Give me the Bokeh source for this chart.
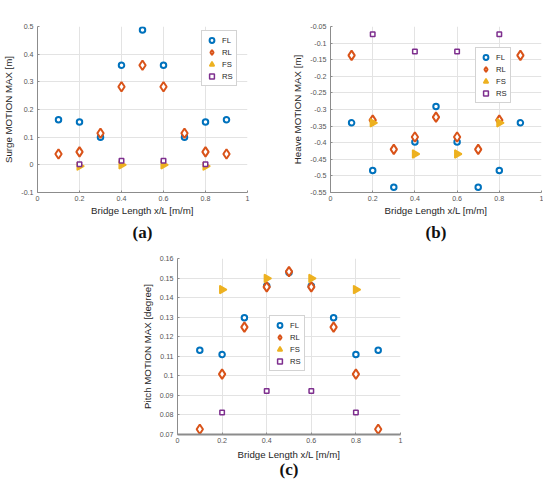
import math
from bokeh.plotting import figure
from bokeh.layouts import column, row
from bokeh.models import FixedTicker, Legend, LegendItem, Spacer, Title
from bokeh.embed import file_html
from bokeh.resources import INLINE

# ---------------- data ----------------
x_full = [0.1, 0.2, 0.3, 0.4, 0.5, 0.6, 0.7, 0.8, 0.9]
x_short = [0.2, 0.4, 0.6, 0.8]

surge_FL = [0.163, 0.155, 0.100, 0.360, 0.487, 0.360, 0.100, 0.155, 0.163]
surge_RL = [0.039, 0.047, 0.114, 0.282, 0.360, 0.282, 0.114, 0.047, 0.039]
surge_FS = [-0.005, 0.000, 0.000, -0.005]
surge_RS = [0.002, 0.015, 0.015, 0.002]

heave_FL = [-0.340, -0.484, -0.534, -0.398, -0.291, -0.398, -0.534, -0.484, -0.340]
heave_RL = [-0.137, -0.332, -0.420, -0.383, -0.323, -0.383, -0.420, -0.332, -0.137]
heave_FS = [-0.340, -0.434, -0.434, -0.340]
heave_RS = [-0.073, -0.125, -0.125, -0.073]

pitch_FL = [0.1131, 0.1109, 0.1297, 0.1460, 0.1528, 0.1460, 0.1297, 0.1109, 0.1131]
pitch_RL = [0.0727, 0.1009, 0.1249, 0.1455, 0.1533, 0.1455, 0.1249, 0.1009, 0.0727]
pitch_FS = [0.1441, 0.1498, 0.1498, 0.1441]
pitch_RS = [0.0812, 0.0922, 0.0922, 0.0812]

x_ticks = [0, 0.2, 0.4, 0.6, 0.8, 1]
x_tick_labels = ["0", "0.2", "0.4", "0.6", "0.8", "1"]
surge_ticks = [-0.1, 0, 0.1, 0.2, 0.3, 0.4, 0.5]
surge_tick_labels = ["-0.1", "0", "0.1", "0.2", "0.3", "0.4", "0.5"]
heave_ticks = [-0.55, -0.5, -0.45, -0.4, -0.35, -0.3, -0.25, -0.2, -0.15, -0.1, -0.05]
heave_tick_labels = ["-0.55", "-0.5", "-0.45", "-0.4", "-0.35", "-0.3", "-0.25",
                     "-0.2", "-0.15", "-0.1", "-0.05"]
pitch_ticks = [0.07, 0.08, 0.09, 0.1, 0.11, 0.12, 0.13, 0.14, 0.15, 0.16]
pitch_tick_labels = ["0.07", "0.08", "0.09", "0.1", "0.11", "0.12", "0.13",
                     "0.14", "0.15", "0.16"]

series_names = ["FL", "RL", "FS", "RS"]
colors = {"FL": "#0072BD", "RL": "#D95319", "FS": "#EDB120", "RS": "#7E2F8E"}

SANS = "Liberation Sans"


def make_panel(title, ylabel, yrange, yticks, ylabels, data, legend_xy,
               frame_w, frame_h, borders, title_standoff, xlabel_standoff):
    p = figure(frame_width=frame_w, frame_height=frame_h, x_range=(0, 1), y_range=yrange,
               output_backend="svg", toolbar_location=None,
               min_border_left=borders[0], min_border_right=borders[1],
               min_border_top=borders[2], min_border_bottom=borders[3])
    p.outline_line_color = None
    p.background_fill_color = "white"
    p.border_fill_color = "white"

    t = Title(text=title, align="center", text_font="Liberation Serif",
              text_font_size="17px", text_font_style="bold", text_color="#111111",
              standoff=title_standoff)
    p.add_layout(t, "below")

    p.xaxis.ticker = FixedTicker(ticks=x_ticks)
    p.xaxis.major_label_overrides = dict(zip(x_ticks, x_tick_labels))
    p.yaxis.ticker = FixedTicker(ticks=yticks)
    p.yaxis.major_label_overrides = dict(zip(yticks, ylabels))
    p.xaxis.axis_label = "Bridge Length x/L [m/m]"
    p.yaxis.axis_label = ylabel
    for ax in (p.xaxis, p.yaxis):
        ax.axis_label_text_font = SANS
        ax.axis_label_text_font_size = "9.7px"
        ax.axis_label_text_font_style = "normal"
        ax.axis_label_text_color = "#262626"
        ax.axis_label_standoff = 4
        ax.major_label_text_font = SANS
        ax.major_label_text_font_size = "7.1px"
        ax.major_label_text_color = "#555555"
        ax.major_label_standoff = 4
        ax.axis_line_color = "#8c8c8c"
        ax.major_tick_line_color = "#8c8c8c"
        ax.major_tick_in = 2
        ax.major_tick_out = 0
        ax.minor_tick_line_color = None
    p.xaxis.axis_label_standoff = xlabel_standoff
    p.xaxis.major_label_standoff = 3
    p.grid.grid_line_color = "#e3e3e3"
    p.grid.grid_line_width = 1

    xs = {"FL": x_full, "RL": x_full, "FS": x_short, "RS": x_short}
    items = []
    r = p.scatter(xs["FL"], data["FL"], marker="circle", size=5.5,
                  line_color=colors["FL"], line_width=2, fill_color="white")
    items.append(LegendItem(label="FL", renderers=[r]))
    r = p.scatter(xs["RL"], data["RL"], marker="diamond", size=9.5,
                  line_color=colors["RL"], line_width=2, fill_color="white")
    items.append(LegendItem(label="RL", renderers=[r]))
    r = p.scatter(xs["FS"], data["FS"], marker="triangle", size=8, angle=-math.pi / 2,
                  line_color=colors["FS"], line_width=1.5, fill_color=colors["FS"])
    items.append(LegendItem(label="FS", renderers=[r]))
    r = p.scatter(xs["RS"], data["RS"], marker="square", size=4.5,
                  line_color=colors["RS"], line_width=1.5, fill_color="white")
    items.append(LegendItem(label="RS", renderers=[r]))

    leg = Legend(items=items, location=legend_xy, margin=0, padding=3,
                 spacing=0, glyph_width=13, glyph_height=12, label_height=12,
                 label_width=9, label_standoff=4, label_text_font=SANS,
                 label_text_font_size="7.7px", label_text_color="#262626",
                 border_line_color="#a8a8a8", border_line_width=1,
                 background_fill_color="white", background_fill_alpha=1)
    p.add_layout(leg)
    return p


pa = make_panel("(a)", "Surge MOTION MAX [m]", (-0.1, 0.5), surge_ticks, surge_tick_labels,
                {"FL": surge_FL, "RL": surge_RL, "FS": surge_FS, "RS": surge_RS},
                (164, 106), 210, 166, (28, 30, 26, 60), 4, 1)
pb = make_panel("(b)", "Heave MOTION MAX [m]", (-0.55, -0.05), heave_ticks, heave_tick_labels,
                {"FL": heave_FL, "RL": heave_RL, "FS": heave_FS, "RS": heave_RS},
                (145, 89), 211, 166, (53, 2, 26, 60), 4, 1)
pc = make_panel("(c)", "Pitch MOTION MAX [degree]", (0.07, 0.16), pitch_ticks, pitch_tick_labels,
                {"FL": pitch_FL, "RL": pitch_RL, "FS": pitch_FS, "RS": pitch_RS},
                (92, 63), 223, 176, (40, 20, 6, 50), -10, 3)
pc.xaxis.axis_line_width = 2

layout = column(row(pa, pb), row(Spacer(width=137, height=10), pc))

open("out.html", "w").write(file_html(layout, INLINE))
